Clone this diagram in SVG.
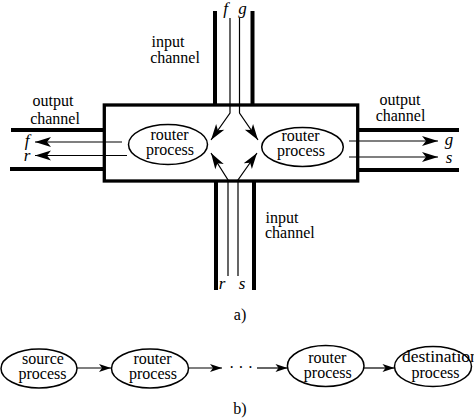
<svg xmlns="http://www.w3.org/2000/svg" width="474" height="418" viewBox="0 0 474 418">
<style>
text{font-size:16px;fill:#000}
.it{font-style:italic;font-size:17px}
.big{font-size:17.5px}
.thick{stroke:#000;stroke-width:4;fill:none}
.box{stroke:#000;stroke-width:3.3;fill:#fff}
.thin{stroke:#000;stroke-width:1.2;fill:none}
.ell{stroke:#000;stroke-width:1.5;fill:#fff}
.c{text-anchor:middle}
</style>
<defs>
<marker id="ah" markerUnits="userSpaceOnUse" markerWidth="20" markerHeight="14" viewBox="-17 -7 20 14" refX="0" refY="0" orient="auto">
<path d="M0,0 L-16,-5 L-12,0 L-16,5 Z" fill="#000"/>
</marker>
<marker id="ahs" markerUnits="userSpaceOnUse" markerWidth="16" markerHeight="10" viewBox="-13 -5 16 10" refX="0" refY="0" orient="auto">
<path d="M0,0 L-12,-4 L-9,0 L-12,4 Z" fill="#000"/>
</marker>
</defs>
<g id="channels">
<line class="thick" x1="215" y1="11" x2="215" y2="105"/>
<line class="thick" x1="252.5" y1="11" x2="252.5" y2="105"/>
<line class="thick" x1="216" y1="181" x2="216" y2="290"/>
<line class="thick" x1="254" y1="181" x2="254" y2="290"/>
<line class="thick" x1="11" y1="130" x2="104" y2="130"/>
<line class="thick" x1="10" y1="169" x2="104" y2="169"/>
<line class="thick" x1="358" y1="130" x2="459" y2="130"/>
<line class="thick" x1="358" y1="170" x2="459" y2="170"/>
</g>
<g id="router-box">
<rect class="box" x="104.3" y="105" width="253.4" height="76"/>
</g>
<g font-family="'Liberation Serif', 'Times New Roman', 'DejaVu Serif', serif">
<g id="router-left">
<ellipse class="ell" cx="168" cy="144.5" rx="39.5" ry="20"/>
<text class="c" x="169.5" y="140">router</text>
<text class="c" x="170" y="154.5">process</text>
</g>
<g id="router-right">
<ellipse class="ell" cx="302.5" cy="147" rx="40.8" ry="19.5"/>
<text class="c" x="300.5" y="141">router</text>
<text class="c" x="301" y="155.5">process</text>
</g>
<g id="connectors">
<polyline class="thin" points="230,18 230,113 211,140" marker-end="url(#ah)"/>
<polyline class="thin" points="239.5,18 239.5,113 258,140" marker-end="url(#ah)"/>
<polyline class="thin" points="228,276 228,180 211,153" marker-end="url(#ah)"/>
<polyline class="thin" points="238,276 238,180 257,153" marker-end="url(#ah)"/>
<line class="thin" x1="122" y1="142" x2="35" y2="142" marker-end="url(#ah)"/>
<line class="thin" x1="127" y1="155.5" x2="35" y2="155.5" marker-end="url(#ah)"/>
<line class="thin" x1="349" y1="141" x2="438" y2="141" marker-end="url(#ah)"/>
<line class="thin" x1="349" y1="157" x2="438" y2="157" marker-end="url(#ah)"/>
<line class="thin" x1="77" y1="368" x2="111" y2="368" marker-end="url(#ahs)"/>
<line class="thin" x1="188.5" y1="368" x2="222" y2="368" marker-end="url(#ahs)"/>
<line class="thin" x1="257" y1="368" x2="287.5" y2="368" marker-end="url(#ahs)"/>
<line class="thin" x1="364" y1="368" x2="394.5" y2="368" marker-end="url(#ahs)"/>
</g>
<g id="labels">
<text class="c" x="53" y="106">output</text>
<text class="c" x="55" y="124">channel</text>
<text class="c" x="168" y="47">input</text>
<text class="c" x="175" y="63">channel</text>
<text class="c" x="400" y="105">output</text>
<text class="c" x="400.5" y="121">channel</text>
<text x="265.5" y="222.5">input</text>
<text x="265" y="238">channel</text>
<text class="it c" x="27" y="146">f</text>
<text class="it c" x="27" y="161">r</text>
<text class="it c" x="449" y="145">g</text>
<text class="it c" x="449" y="163">s</text>
<text class="it c" x="225.5" y="14">f</text>
<text class="it c" x="242.5" y="14">g</text>
<text class="it c" x="222" y="289">r</text>
<text class="it c" x="242" y="289">s</text>
<text class="c" x="240" y="320">a)</text>
<text class="c" x="240" y="414">b)</text>
<text class="c" x="241" y="373">· · ·</text>
</g>
<g id="source">
<ellipse class="ell" cx="39" cy="368.5" rx="38" ry="19.5"/>
<text class="c" x="43" y="364">source</text>
<text class="c" x="42.5" y="379">process</text>
</g>
<g id="router-b1">
<ellipse class="ell" cx="150" cy="368.5" rx="38.5" ry="19.5"/>
<text class="c" x="152.5" y="364">router</text>
<text class="c" x="153" y="379">process</text>
</g>
<g id="router-b2">
<ellipse class="ell" cx="325.7" cy="366" rx="38.3" ry="20.5"/>
<text class="c" x="327.3" y="362.5">router</text>
<text class="c" x="327.8" y="377.5">process</text>
</g>
<g id="destination">
<ellipse class="ell" cx="433" cy="366.5" rx="38.5" ry="20"/>
<text class="big" x="402" y="362">destination</text>
<text class="c" x="435.5" y="377.5">process</text>
</g>
</g>
</svg>
